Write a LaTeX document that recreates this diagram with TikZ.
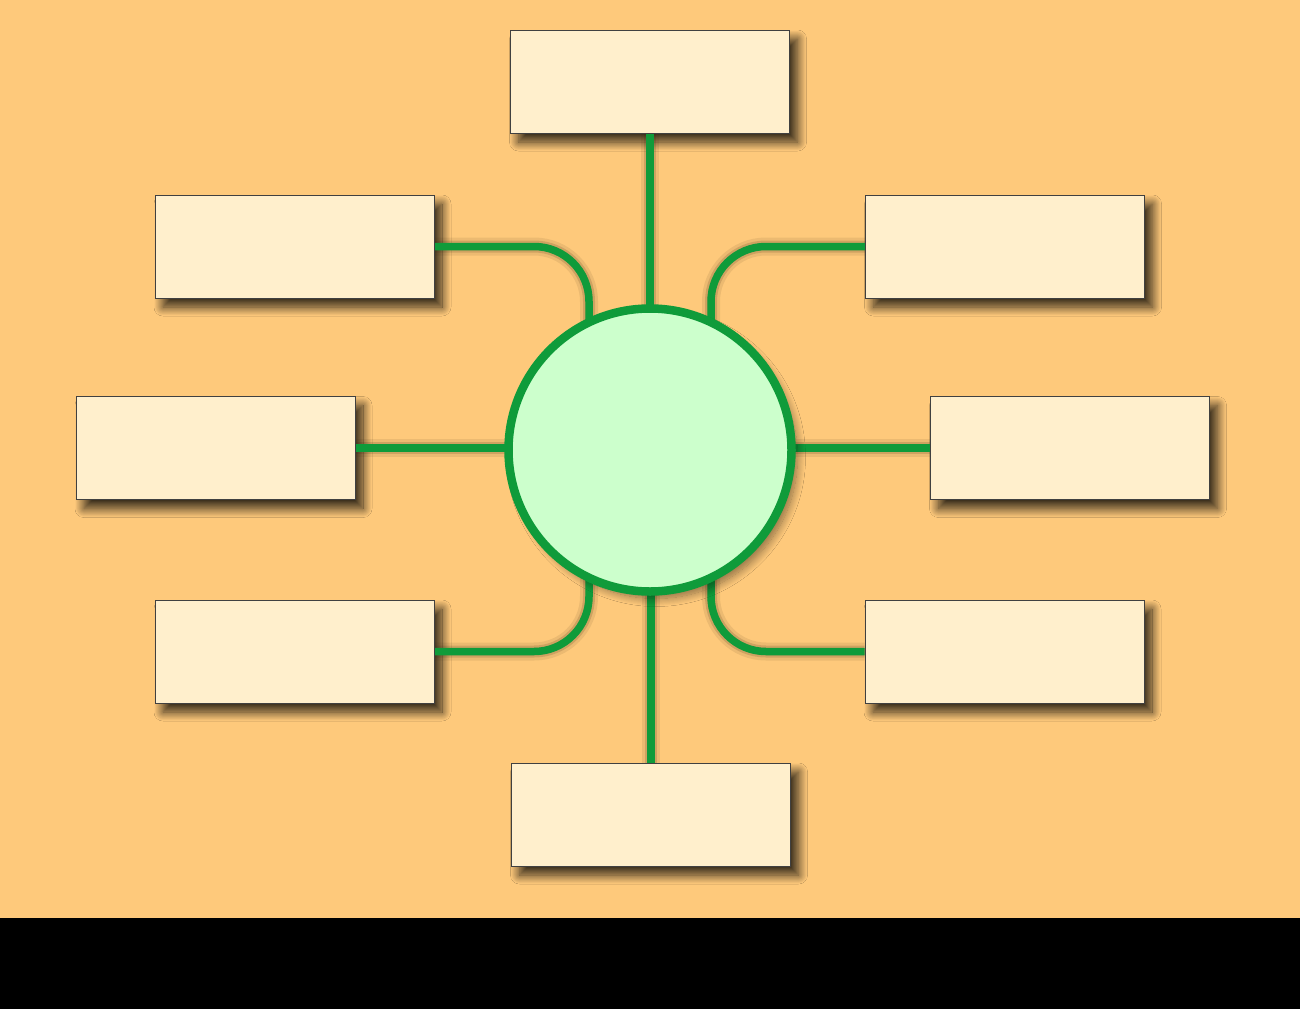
\documentclass[tikz,border=0pt]{standalone}
\usetikzlibrary{calc,shadows.blur}
\definecolor{bgorange}{HTML}{FEC97B}
\definecolor{boxfill}{HTML}{FFEFCC}
\definecolor{hubfill}{HTML}{CCFFCC}
\definecolor{linkgreen}{HTML}{0F9B3A}
\definecolor{shadowbrown}{HTML}{3A2A10}
\tikzset{
  box/.style={draw=black!75, line width=0.9pt, fill=boxfill, minimum width=279pt, minimum height=103pt, inner sep=0pt},
  boxshadow/.style={box, draw=none, blur shadow={shadow xshift=8pt, shadow yshift=-9pt, shadow blur radius=9pt, shadow opacity=80, shadow blur steps=24}},
  hubstyle/.style={circle, draw=linkgreen, line width=8.5pt, fill=hubfill, minimum size=283pt, inner sep=0pt,
    blur shadow={shadow xshift=6pt, shadow yshift=-7pt, shadow blur radius=8pt, shadow opacity=45, shadow blur steps=16}},
  link/.style={draw=linkgreen, line width=7.5pt, rounded corners=55pt},
  linkshadowA/.style={draw=shadowbrown, line width=18pt, opacity=0.09, rounded corners=55pt},
  linkshadowB/.style={draw=shadowbrown, line width=12pt, opacity=0.16, rounded corners=55pt},
  linkshadowC/.style={draw=shadowbrown, line width=7pt, opacity=0.22, rounded corners=55pt}
}
\begin{document}
\begin{tikzpicture}[x=1pt,y=-1pt]
\useasboundingbox (0,0) rectangle (1300,1009);
\fill[bgorange] (0,0) rectangle (1300,918);
\fill[black] (0,918) rectangle (1300,1009);

% nodes (shadows first)
\coordinate (hubc) at (650,450);
\foreach \n/\p in {top/{(650,81.5)}, ul/{(294.5,246.5)}, ur/{(1005,246.5)}, ml/{(215.5,448)}, mr/{(1070,448)}, ll/{(294.5,651.5)}, lr/{(1004.5,651.5)}, bot/{(651,814.5)}}{
  \node[boxshadow] (\n) at \p {};
}

% connector shadows
\foreach \s in {linkshadowA,linkshadowB,linkshadowC}{
  \begin{scope}[shift={(6,8)}]
  \draw[\s] (top.south) -- (hubc);
  \draw[\s] (bot.north) -- (bot.north |- hubc);
  \draw[\s] (ml.east) -- (ml.east -| hubc);
  \draw[\s] (mr.west) -- (mr.west -| hubc);
  \draw[\s] (ul.east) -| ($(hubc)+(-61,0)$);
  \draw[\s] (ur.west) -| ($(hubc)+(61,0)$);
  \draw[\s] (ll.east) -| ($(hubc)+(-61,0)$);
  \draw[\s] (lr.west) -| ($(hubc)+(61,0)$);
  \end{scope}
}
% connectors
\draw[link] (top.south) -- (hubc);
\draw[link] (bot.north) -- (bot.north |- hubc);
\draw[link] (ml.east) -- (ml.east -| hubc);
\draw[link] (mr.west) -- (mr.west -| hubc);
\draw[link] (ul.east) -| ($(hubc)+(-61,0)$);
\draw[link] (ur.west) -| ($(hubc)+(61,0)$);
\draw[link] (ll.east) -| ($(hubc)+(-61,0)$);
\draw[link] (lr.west) -| ($(hubc)+(61,0)$);

% hub
\node[hubstyle] (hub) at (hubc) {};

% boxes drawn above connector ends
\foreach \n in {top,ul,ur,ml,mr,ll,lr,bot}{
  \node[box] at (\n) {};
}
\end{tikzpicture}
\end{document}
